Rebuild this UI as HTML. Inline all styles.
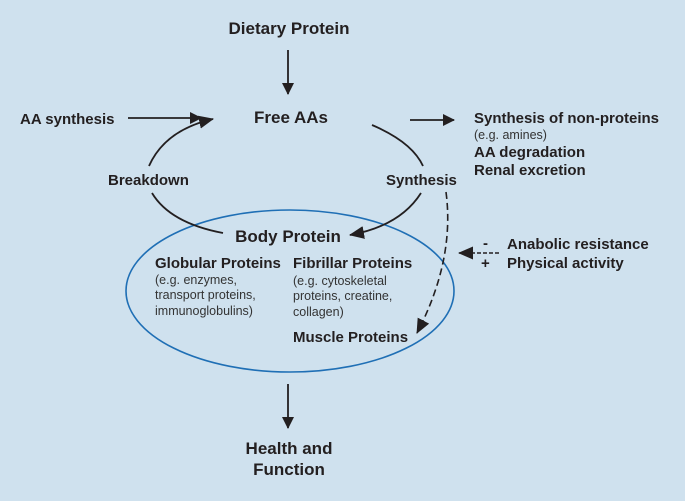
<!DOCTYPE html>
<html><head><meta charset="utf-8"><style>
body{margin:0;background:#cfe1ee;}
svg{display:block}
text{font-family:"Liberation Sans",Arial,sans-serif;fill:#231f20}
.b{font-weight:bold;font-size:15px}
.s{font-size:12.5px;fill:#333}
</style></head><body>
<svg width="685" height="501" viewBox="0 0 685 501">
<defs>
<marker id="a" markerWidth="12" markerHeight="12" refX="11" refY="6" orient="auto" markerUnits="userSpaceOnUse"><path d="M0,0 L12,6 L0,12 z" fill="#231f20"/></marker>
<marker id="a2" markerWidth="15" markerHeight="13" refX="14" refY="6.5" orient="auto" markerUnits="userSpaceOnUse"><path d="M0,0 L15,6.5 L0,13 z" fill="#231f20"/></marker>
</defs>
<rect width="685" height="501" fill="#cfe1ee"/>
<ellipse cx="290" cy="291" rx="164" ry="81" fill="none" stroke="#1f6fb5" stroke-width="1.6"/>
<g stroke="#231f20" stroke-width="1.8" fill="none">
<line x1="288" y1="50" x2="288" y2="94" marker-end="url(#a)"/>
<line x1="128" y1="118" x2="201" y2="118" marker-end="url(#a)"/>
<line x1="410" y1="120" x2="454" y2="120" marker-end="url(#a)"/>
<line x1="288" y1="384" x2="288" y2="428" marker-end="url(#a)"/>
<path d="M149,166 Q165,130 213,119" marker-end="url(#a2)"/>
<path d="M152,193 Q170,223 223,233"/>
<path d="M372,125 Q412,142 423,166"/>
<path d="M421,193 Q400,226 350,235" marker-end="url(#a2)"/>
<path d="M446,192 Q455,260 417,333" stroke-dasharray="7,4" stroke-width="1.6" marker-end="url(#a2)"/>
<line x1="499" y1="253" x2="459" y2="253" stroke-dasharray="4,2" stroke-width="1.6" marker-end="url(#a2)"/>
</g>
<text class="b" x="289" y="34" text-anchor="middle" style="font-size:17px">Dietary Protein</text>
<text class="b" x="291" y="123" text-anchor="middle" style="font-size:17px">Free AAs</text>
<text class="b" x="20" y="124">AA synthesis</text>
<text class="b" x="474" y="123">Synthesis of non-proteins</text>
<text class="s" x="474" y="139">(e.g. amines)</text>
<text class="b" x="474" y="157">AA degradation</text>
<text class="b" x="474" y="175">Renal excretion</text>
<text class="b" x="108" y="185">Breakdown</text>
<text class="b" x="386" y="185">Synthesis</text>
<text class="b" x="288" y="242" text-anchor="middle" style="font-size:17px">Body Protein</text>
<text class="b" x="155" y="268">Globular Proteins</text>
<text class="s" x="155" y="284">(e.g. enzymes,</text>
<text class="s" x="155" y="299">transport proteins,</text>
<text class="s" x="155" y="315">immunoglobulins)</text>
<text class="b" x="293" y="268">Fibrillar Proteins</text>
<text class="s" x="293" y="285">(e.g. cytoskeletal</text>
<text class="s" x="293" y="300">proteins, creatine,</text>
<text class="s" x="293" y="316">collagen)</text>
<text class="b" x="293" y="342">Muscle Proteins</text>
<text class="b" x="483" y="248">-</text>
<text class="b" x="481" y="268">+</text>
<text class="b" x="507" y="249">Anabolic resistance</text>
<text class="b" x="507" y="268">Physical activity</text>
<text class="b" x="289" y="454" text-anchor="middle" style="font-size:17px">Health and</text>
<text class="b" x="289" y="475" text-anchor="middle" style="font-size:17px">Function</text>
</svg>
</body></html>
